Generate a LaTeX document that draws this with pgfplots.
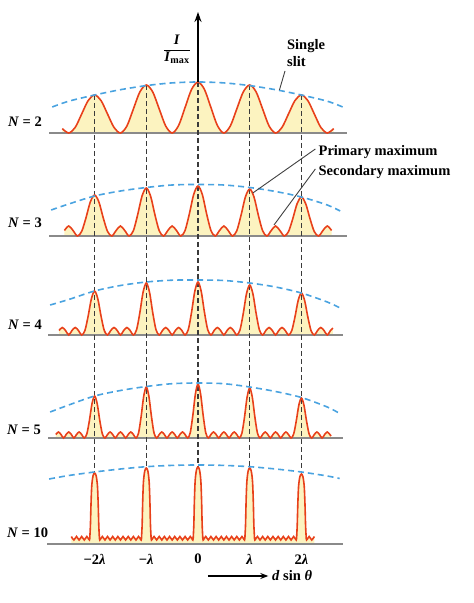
\documentclass[border=0pt]{standalone}
\usepackage{fontspec}
\setmainfont{Liberation Serif}
\usepackage{pgfplots}
\pgfplotsset{compat=1.18}
\usepackage{pgfplotstable}
\usetikzlibrary{arrows.meta}
\definecolor{curvec}{HTML}{E8401A}
\definecolor{fillc}{HTML}{FCF3C0}
\definecolor{envc}{HTML}{4AA3E0}
\definecolor{vdash}{HTML}{3A3A3A}
\definecolor{basec}{HTML}{8A8A8A}

% N = 2
\pgfplotstableread[row sep=\\]{x h\\
-2.625 4.4\\ -2.5 0\\ -2.375 5.6\\ -2.25 19\\ -2.125 32.4\\ -2 38\\ -1.875 32.4\\ -1.75 19\\ -1.625 5.6\\ -1.5 0\\
-1.375 7\\ -1.25 24\\ -1.125 41\\ -1 48\\ -0.875 41\\ -0.75 24\\ -0.625 7\\ -0.5 0\\
-0.375 7.5\\ -0.25 25.5\\ -0.125 43.5\\ 0 51\\ 0.125 43.5\\ 0.25 25.5\\ 0.375 7.5\\ 0.5 0\\
0.625 7\\ 0.75 24\\ 0.875 41\\ 1 48\\ 1.125 41\\ 1.25 24\\ 1.375 7\\ 1.5 0\\
1.625 5.6\\ 1.75 19\\ 1.875 32.4\\ 2 38\\ 2.125 32.4\\ 2.25 19\\ 2.375 5.6\\ 2.5 0\\ 2.625 4.4\\
}\curveA
% N = 3
\pgfplotstableread[row sep=\\]{x h\\
-2.5833 5.5\\ -2.5 10\\ -2.4167 5.5\\ -2.3333 0\\ -2.25 4.6\\ -2.1667 18.2\\ -2.0833 34\\ -2 41\\ -1.9167 34\\ -1.8333 18.2\\ -1.75 4.6\\ -1.6667 0\\
-1.5833 5.5\\ -1.5 10\\ -1.4167 5.5\\ -1.3333 0\\ -1.25 5.3\\ -1.1667 21.3\\ -1.0833 39.8\\ -1 48\\ -0.9167 39.8\\ -0.8333 21.3\\ -0.75 5.3\\ -0.6667 0\\
-0.5833 5.5\\ -0.5 10\\ -0.4167 5.5\\ -0.3333 0\\ -0.25 5.6\\ -0.1667 22.2\\ -0.0833 41.5\\ 0 50\\ 0.0833 41.5\\ 0.1667 22.2\\ 0.25 5.6\\ 0.3333 0\\
0.4167 5.5\\ 0.5 10\\ 0.5833 5.5\\ 0.6667 0\\ 0.75 5.2\\ 0.8333 20.9\\ 0.9167 39\\ 1 47\\ 1.0833 39\\ 1.1667 20.9\\ 1.25 5.2\\ 1.3333 0\\
1.4167 5.5\\ 1.5 10\\ 1.5833 5.5\\ 1.6667 0\\ 1.75 4.3\\ 1.8333 17.3\\ 1.9167 32.3\\ 2 39\\ 2.0833 32.3\\ 2.1667 17.3\\ 2.25 4.3\\ 2.3333 0\\
2.4167 5.5\\ 2.5 10\\ 2.5833 5.5\\
}\curveB
% N = 4
\pgfplotstableread[row sep=\\]{x h\\
-2.6875 4.5\\ -2.625 7.5\\ -2.5625 4.5\\ -2.5 0\\ -2.4375 4.5\\ -2.375 7.5\\ -2.3125 4.5\\ -2.25 0\\
-2.1875 4.4\\ -2.125 18.8\\ -2.0625 36.1\\ -2 44\\ -1.9375 36.1\\ -1.875 18.8\\ -1.8125 4.4\\ -1.75 0\\
-1.6875 4.5\\ -1.625 7.5\\ -1.5625 4.5\\ -1.5 0\\ -1.4375 4.5\\ -1.375 7.5\\ -1.3125 4.5\\ -1.25 0\\
-1.1875 5.3\\ -1.125 22.2\\ -1.0625 42.7\\ -1 52\\ -0.9375 42.7\\ -0.875 22.2\\ -0.8125 5.3\\ -0.75 0\\
-0.6875 4.5\\ -0.625 7.5\\ -0.5625 4.5\\ -0.5 0\\ -0.4375 4.5\\ -0.375 7.5\\ -0.3125 4.5\\ -0.25 0\\
-0.1875 5.4\\ -0.125 22.6\\ -0.0625 43.5\\ 0 53\\ 0.0625 43.5\\ 0.125 22.6\\ 0.1875 5.4\\ 0.25 0\\
0.3125 4.5\\ 0.375 7.5\\ 0.4375 4.5\\ 0.5 0\\ 0.5625 4.5\\ 0.625 7.5\\ 0.6875 4.5\\ 0.75 0\\
0.8125 5.1\\ 0.875 21.4\\ 0.9375 41.1\\ 1 50\\ 1.0625 41.1\\ 1.125 21.4\\ 1.1875 5.1\\ 1.25 0\\
1.3125 4.5\\ 1.375 7.5\\ 1.4375 4.5\\ 1.5 0\\ 1.5625 4.5\\ 1.625 7.5\\ 1.6875 4.5\\ 1.75 0\\
1.8125 4.2\\ 1.875 17.9\\ 1.9375 34.5\\ 2 42\\ 2.0625 34.5\\ 2.125 17.9\\ 2.1875 4.2\\ 2.25 0\\
2.3125 4.5\\ 2.375 7.5\\ 2.4375 4.5\\ 2.5 0\\ 2.5625 4.5\\ 2.61 7\\
}\curveC
% N = 5
\pgfplotstableread[row sep=\\]{x h\\
-2.75 3.5\\ -2.7 6\\ -2.65 3.5\\ -2.6 0\\ -2.55 3.5\\ -2.5 6\\ -2.45 3.5\\ -2.4 0\\ -2.35 3.5\\ -2.3 6\\ -2.25 3.5\\ -2.2 0\\
-2.15 4.1\\ -2.1 17.6\\ -2.05 34.3\\ -2 42\\ -1.95 34.3\\ -1.9 17.6\\ -1.85 4.1\\ -1.8 0\\
-1.75 3.5\\ -1.7 6\\ -1.65 3.5\\ -1.6 0\\ -1.55 3.5\\ -1.5 6\\ -1.45 3.5\\ -1.4 0\\ -1.35 3.5\\ -1.3 6\\ -1.25 3.5\\ -1.2 0\\
-1.15 4.9\\ -1.1 21.4\\ -1.05 41.7\\ -1 51\\ -0.95 41.7\\ -0.9 21.4\\ -0.85 4.9\\ -0.8 0\\
-0.75 3.5\\ -0.7 6\\ -0.65 3.5\\ -0.6 0\\ -0.55 3.5\\ -0.5 6\\ -0.45 3.5\\ -0.4 0\\ -0.35 3.5\\ -0.3 6\\ -0.25 3.5\\ -0.2 0\\
-0.15 5.2\\ -0.1 22.6\\ -0.05 44.1\\ 0 54\\ 0.05 44.1\\ 0.1 22.6\\ 0.15 5.2\\ 0.2 0\\
0.25 3.5\\ 0.3 6\\ 0.35 3.5\\ 0.4 0\\ 0.45 3.5\\ 0.5 6\\ 0.55 3.5\\ 0.6 0\\ 0.65 3.5\\ 0.7 6\\ 0.75 3.5\\ 0.8 0\\
0.85 4.9\\ 0.9 21\\ 0.95 40.9\\ 1 50\\ 1.05 40.9\\ 1.1 21\\ 1.15 4.9\\ 1.2 0\\
1.25 3.5\\ 1.3 6\\ 1.35 3.5\\ 1.4 0\\ 1.45 3.5\\ 1.5 6\\ 1.55 3.5\\ 1.6 0\\ 1.65 3.5\\ 1.7 6\\ 1.75 3.5\\ 1.8 0\\
1.85 3.9\\ 1.9 16.8\\ 1.95 32.7\\ 2 40\\ 2.05 32.7\\ 2.1 16.8\\ 2.15 3.9\\ 2.2 0\\
2.25 3.5\\ 2.3 6\\ 2.35 3.5\\ 2.4 0\\ 2.45 3.5\\ 2.5 6\\ 2.55 3.5\\ 2.575 2\\
}\curveD
% N = 10
\pgfplotstableread[row sep=\\]{x h\\
-2.45 7.5\\ -2.4 4\\ -2.35 7.5\\ -2.3 4\\ -2.25 7.5\\ -2.2 4\\ -2.15 7.5\\ -2.1 4\\
-2.09 9\\ -2.08 20\\ -2.07 39.1\\ -2.055 58.2\\ -2.03 68.2\\ -2 71\\ -1.97 68.2\\ -1.945 58.2\\ -1.93 39.1\\ -1.92 20\\ -1.91 9\\
-1.9 4\\ -1.85 7.5\\ -1.8 4\\ -1.75 7.5\\ -1.7 4\\ -1.65 7.5\\ -1.6 4\\ -1.55 7.5\\ -1.5 4\\ -1.45 7.5\\ -1.4 4\\ -1.35 7.5\\ -1.3 4\\ -1.25 7.5\\ -1.2 4\\ -1.15 7.5\\ -1.1 4\\
-1.09 9\\ -1.08 20\\ -1.07 41.8\\ -1.055 62.3\\ -1.03 73\\ -1 76\\ -0.97 73\\ -0.945 62.3\\ -0.93 41.8\\ -0.92 20\\ -0.91 9\\
-0.9 4\\ -0.85 7.5\\ -0.8 4\\ -0.75 7.5\\ -0.7 4\\ -0.65 7.5\\ -0.6 4\\ -0.55 7.5\\ -0.5 4\\ -0.45 7.5\\ -0.4 4\\ -0.35 7.5\\ -0.3 4\\ -0.25 7.5\\ -0.2 4\\ -0.15 7.5\\ -0.1 4\\
-0.09 9\\ -0.08 20\\ -0.07 42.4\\ -0.055 63.1\\ -0.03 73.9\\ 0 77\\ 0.03 73.9\\ 0.055 63.1\\ 0.07 42.4\\ 0.08 20\\ 0.09 9\\
0.1 4\\ 0.15 7.5\\ 0.2 4\\ 0.25 7.5\\ 0.3 4\\ 0.35 7.5\\ 0.4 4\\ 0.45 7.5\\ 0.5 4\\ 0.55 7.5\\ 0.6 4\\ 0.65 7.5\\ 0.7 4\\ 0.75 7.5\\ 0.8 4\\ 0.85 7.5\\ 0.9 4\\
0.91 9\\ 0.92 20\\ 0.93 41.8\\ 0.945 62.3\\ 0.97 73\\ 1 76\\ 1.03 73\\ 1.055 62.3\\ 1.07 41.8\\ 1.08 20\\ 1.09 9\\
1.1 4\\ 1.15 7.5\\ 1.2 4\\ 1.25 7.5\\ 1.3 4\\ 1.35 7.5\\ 1.4 4\\ 1.45 7.5\\ 1.5 4\\ 1.55 7.5\\ 1.6 4\\ 1.65 7.5\\ 1.7 4\\ 1.75 7.5\\ 1.8 4\\ 1.85 7.5\\ 1.9 4\\
1.91 9\\ 1.92 20\\ 1.93 38.5\\ 1.945 57.4\\ 1.97 67.2\\ 2 70\\ 2.03 67.2\\ 2.055 57.4\\ 2.07 38.5\\ 2.08 20\\ 2.09 9\\
2.1 4\\ 2.15 7.5\\ 2.2 4\\ 2.25 7.5\\
}\curveE

% single-slit envelopes
\pgfplotstableread[row sep=\\]{x h\\
-2.82 26\\ -2.5 31.8\\ -2 38\\ -1.5 43.3\\ -1 47.4\\ -0.5 50.1\\ 0 51\\ 0.5 50.1\\ 1 47.4\\ 1.5 43.3\\ 2 38\\ 2.5 31.8\\ 2.8 26\\
}\envA
\pgfplotstableread[row sep=\\]{x h\\
-2.84 26\\ -2.5 32\\ -2 40\\ -1.5 45\\ -1 48.5\\ -0.5 51\\ 0 51.5\\ 0.5 51\\ 1 48.5\\ 1.5 44.5\\ 2 39\\ 2.5 31\\ 2.75 25\\
}\envB
\pgfplotstableread[row sep=\\]{x h\\
-2.86 30\\ -2.5 35.5\\ -2 44\\ -1.5 49.5\\ -1 53\\ -0.5 54.8\\ 0 55\\ 0.5 54.5\\ 1 52\\ 1.5 48\\ 2 42\\ 2.5 33\\ 2.75 27\\
}\envC
\pgfplotstableread[row sep=\\]{x h\\
-2.86 26\\ -2.5 33\\ -2 42\\ -1.5 47.5\\ -1 51.5\\ -0.5 54.3\\ 0 55\\ 0.5 54.3\\ 1 51\\ 1.5 46.5\\ 2 40.5\\ 2.5 31\\ 2.74 24.5\\
}\envD
\pgfplotstableread[row sep=\\]{x h\\
-2.88 65\\ -2.5 68.5\\ -2 72\\ -1.5 75\\ -1 77.3\\ -0.5 78.6\\ 0 79\\ 0.5 78.6\\ 1 77.3\\ 1.5 75\\ 2 72\\ 2.5 68\\ 2.74 65.5\\
}\envE

\begin{document}
\begin{tikzpicture}[
  lab/.style={font=\fontsize{14.5}{17.5}\selectfont\bfseries, inner sep=0pt},
]
\useasboundingbox (0,0) rectangle (474pt,603pt);
\begin{axis}[
  scale only axis, width=474pt, height=603pt,
  xmin=-3.8298, xmax=5.3385, ymin=0, ymax=603,
  hide axis, clip=false, anchor=south west, at={(0,0)},
  fillp/.style={fill=fillc, draw=none, smooth, tension=0.5},
  curvep/.style={curvec, line width=1.6pt, smooth, tension=0.5, no markers},
  envp/.style={envc, line width=1.6pt, dash pattern=on 6pt off 4pt, smooth, no markers},
  basep/.style={basec, line width=1.8pt, no markers},
  vdp/.style={vdash, line width=1.4pt, dash pattern=on 5pt off 3pt, no markers},
]
% fills
\addplot[fillp, yshift=470pt] table[x=x,y=h] {\curveA} \closedcycle;
\addplot[fillp, yshift=367pt] table[x=x,y=h] {\curveB} \closedcycle;
\addplot[fillp, yshift=268pt] table[x=x,y=h] {\curveC} \closedcycle;
\addplot[fillp, yshift=165pt] table[x=x,y=h] {\curveD} \closedcycle;
\addplot[fillp, yshift=59pt] table[x=x,y=h] {\curveE} \closedcycle;
% baselines
\addplot[basep] coordinates {(-2.88,470) (2.88,470)};
\addplot[basep] coordinates {(-2.88,367) (2.88,367)};
\addplot[basep] coordinates {(-2.90,268) (2.80,268)};
\addplot[basep] coordinates {(-2.90,165) (2.80,165)};
\addplot[basep] coordinates {(-2.92,59) (2.80,59)};
% dashed verticals through the principal maxima
\addplot[vdp] coordinates {(-2,508) (-2,130)};
\addplot[vdp] coordinates {(-1,518) (-1,135)};
\addplot[vdp] coordinates {(0,521) (0,136)};
\addplot[vdp] coordinates {(1,518) (1,135)};
\addplot[vdp] coordinates {(2,508) (2,129)};
% intensity curves
\addplot[curvep, yshift=470pt] table[x=x,y=h] {\curveA};
\addplot[curvep, yshift=367pt] table[x=x,y=h] {\curveB};
\addplot[curvep, yshift=268pt] table[x=x,y=h] {\curveC};
\addplot[curvep, yshift=165pt] table[x=x,y=h] {\curveD};
\addplot[curvep, yshift=59pt] table[x=x,y=h] {\curveE};
% single-slit envelopes
\addplot[envp, yshift=470pt] table[x=x,y=h] {\envA};
\addplot[envp, yshift=367pt] table[x=x,y=h] {\envB};
\addplot[envp, yshift=268pt] table[x=x,y=h] {\envC};
\addplot[envp, yshift=165pt] table[x=x,y=h] {\envD};
\addplot[envp, yshift=59pt] table[x=x,y=h] {\envE};
% vertical axis arrow
\addplot[black, line width=2pt, -{Stealth[length=10pt,width=7pt]}] coordinates {(0,521) (0,591)};
% horizontal arrow
\addplot[black, line width=1.6pt, -{Stealth[length=8pt,width=6pt]}] coordinates {(0.193,27) (1.36,27)};

% labels
\node[lab] at (axis cs:-0.406,553) {\renewcommand\arraystretch{0.95}\begin{tabular}{@{}c@{}}\textit{I}\\\hline\textit{I}\textsubscript{max}\end{tabular}};
\node[lab, anchor=west, align=left] at (axis cs:1.72,550) {Single\\slit};
\draw[gray!50!black, line width=0.9pt] (axis cs:1.683,532) -- (axis cs:1.575,513);
\node[lab, anchor=west] at (axis cs:2.33,451) {Primary maximum};
\node[lab, anchor=west] at (axis cs:2.33,431) {Secondary maximum};
\draw[gray!50!black, line width=0.9pt] (axis cs:2.27,454) -- (axis cs:1.06,410);
\draw[gray!50!black, line width=0.9pt] (axis cs:2.27,434) -- (axis cs:1.47,378);

\node[lab, anchor=west] at (axis cs:-3.675,481) {\textit{N} = 2};
\node[lab, anchor=west] at (axis cs:-3.675,380) {\textit{N} = 3};
\node[lab, anchor=west] at (axis cs:-3.675,278) {\textit{N} = 4};
\node[lab, anchor=west] at (axis cs:-3.695,173) {\textit{N} = 5};
\node[lab, anchor=west] at (axis cs:-3.695,70) {\textit{N} = 10};

\node[lab] at (axis cs:-2,44) {−2\textit{λ}};
\node[lab] at (axis cs:-1,44) {−\textit{λ}};
\node[lab] at (axis cs:0,44) {0};
\node[lab] at (axis cs:1,44) {\textit{λ}};
\node[lab] at (axis cs:2,44) {2\textit{λ}};
\node[lab, anchor=west] at (axis cs:1.43,27) {\textit{d} sin \textit{θ}};
\end{axis}
\end{tikzpicture}
\end{document}
